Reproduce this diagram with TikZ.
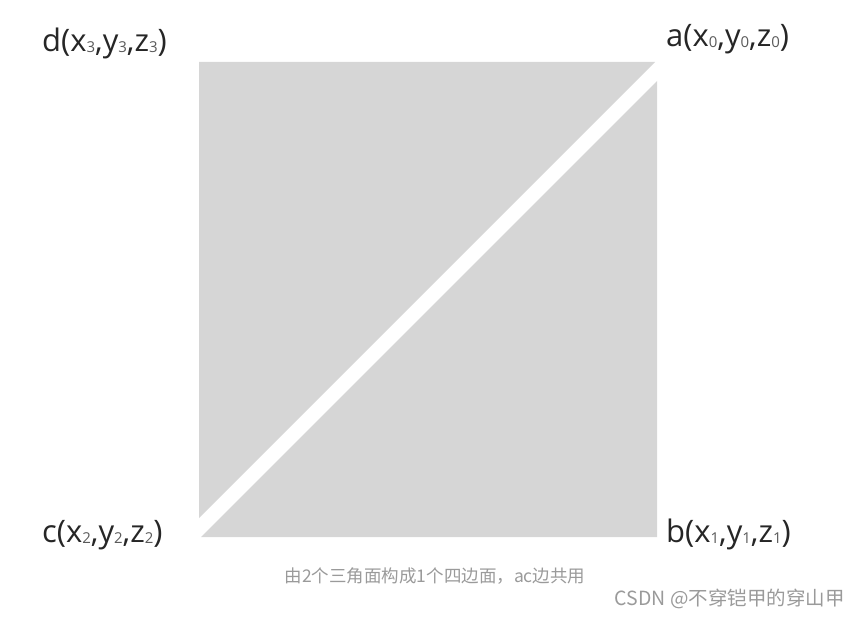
\documentclass[tikz,border=0pt]{standalone}
\usepackage{fontspec}
\setmainfont{Open Sans}
\newfontfamily\cjk{Noto Sans CJK SC}
\usetikzlibrary{positioning}
\definecolor{face}{HTML}{D6D6D6}
\definecolor{caption}{HTML}{9A9A9A}
\definecolor{subidx}{HTML}{5A5A5A}
\newcommand{\ix}[1]{{\fontsize{15}{15}\selectfont\color{subidx}\raisebox{-1pt}{#1}}}
\newcommand{\vlabel}[2]{#1(x\ix{#2},y\ix{#2},z\ix{#2})}

\begin{document}
\begin{tikzpicture}[x = 1pt, y = -1pt]

\tikzset{
vertex/.style = {inner sep = 0pt, anchor = base west, text = black!85,
	font = \fontsize{31}{31}\selectfont},
note/.style = {inner sep = 0pt, anchor = base, text = caption,
	font = \cjk\fontsize{17.5}{17.5}\selectfont},
}

\useasboundingbox (0, 0) rectangle (858, 617);

%% Quad
% The two triangles
\fill [face] (199, 62) -- (655, 62) -- (199, 518) -- cycle;
\fill [face] (657, 81) -- (657, 537) -- (201, 537) -- cycle;

% The vertices
\node [vertex] (d) at (42, 52) {\vlabel{d}{3}};
\node [vertex] (a) at (666, 47) {\vlabel{a}{0}};
\node [vertex] (c) at (42, 542) {\vlabel{c}{2}};
\node [vertex] (b) at (666, 542) {\vlabel{b}{1}};

%% Label
\node [note] (caption) at (435, 582) {由2个三角面构成1个四边面，ac边共用};
\node [note, anchor = base east, font = \cjk\fontsize{19.5}{19.5}\selectfont] (mark)
	at (845, 605) {CSDN @不穿铠甲的穿山甲};

\end{tikzpicture}
\end{document}
